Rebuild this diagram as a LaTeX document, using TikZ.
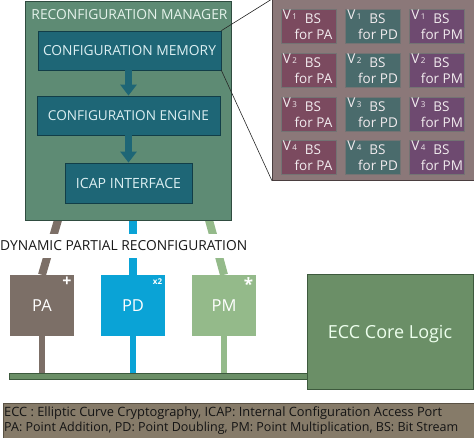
\documentclass[tikz,border=0pt]{standalone}
\usepackage{fontspec}
\usepackage{graphicx}
\setmainfont{Open Sans}
\usetikzlibrary{arrows.meta,backgrounds,calc}
\newcommand{\fitw}[2]{\resizebox{#1pt}{!}{#2}}
\definecolor{mgrfill}{HTML}{5E8B74}
\definecolor{mgrline}{HTML}{2F4C40}
\definecolor{mgrtext}{HTML}{E4F2EA}
\definecolor{innerfill}{HTML}{1E6676}
\definecolor{innerline}{HTML}{123E48}
\definecolor{innertext}{HTML}{DCEFF2}
\definecolor{panelfill}{HTML}{8B7879}
\definecolor{panelline}{HTML}{4A3E3F}
\definecolor{cellA}{HTML}{7B4A5F}
\definecolor{cellB}{HTML}{4A6B6C}
\definecolor{cellC}{HTML}{6E4A70}
\definecolor{celltxt}{HTML}{F2ECEF}
\definecolor{pafill}{HTML}{7C6F67}
\definecolor{pdfill}{HTML}{0AA3D6}
\definecolor{pmfill}{HTML}{94BA8A}
\definecolor{eccfill}{HTML}{6B8F67}
\definecolor{eccline}{HTML}{3D5A3D}
\definecolor{legfill}{HTML}{867B69}
\definecolor{legline}{HTML}{5A5245}
\begin{document}
\begin{tikzpicture}[x=1pt,y=-1pt,
  mgrbox/.style={draw=mgrline,fill=mgrfill,line width=1pt,inner sep=0pt},
  innerbox/.style={draw=innerline,fill=innerfill,line width=0.8pt,inner sep=0pt,text=innertext},
  blockarrow/.style={line width=7pt,draw=innerfill,-{Triangle[length=11pt,width=16pt]}},
  panelbox/.style={draw=panelline,fill=panelfill,line width=0.8pt,inner sep=0pt},
  cellbox/.style={draw=black!55,line width=0.5pt,minimum width=55pt,minimum height=34pt,inner sep=0pt},
  celltext/.style={text=celltxt,inner sep=0pt,font=\fontsize{13.5}{15}\selectfont},
  zoomline/.style={draw=black!85,line width=0.6pt},
  opbox/.style={minimum width=64pt,minimum height=61pt,inner sep=0pt,text=white,font=\fontsize{16.5}{18}\selectfont},
  opmark/.style={inner sep=0pt,text=white},
  stubline/.style={line width=8pt},
  busline/.style={line width=6pt},
  eccbox/.style={draw=eccline,fill=eccfill,line width=0.8pt,inner sep=0pt,text=white!93!green,font=\fontsize{18}{20}\selectfont,text depth=0pt},
  legbox/.style={draw=legline,fill=legfill,line width=0.6pt,inner sep=0pt},
  legtext/.style={inner sep=0pt,text=black!92,anchor=base west}
]
\useasboundingbox (0,0) rectangle (474,437);

% Reconfiguration manager
\node[mgrbox,minimum width=206pt,minimum height=219pt,anchor=north west] (mgr) at (25,1) {};
\node[text=mgrtext,inner sep=0pt] (mgrtitle) at (129.5,14.5) {\fitw{196}{RECONFIGURATION MANAGER}};
\node[innerbox,minimum width=183pt,minimum height=39pt] (mem) at (129.5,50.5) {\fitw{173}{CONFIGURATION MEMORY}};
\node[innerbox,minimum width=183pt,minimum height=39pt] (eng) at (128.5,115.5) {\fitw{161}{CONFIGURATION ENGINE}};
\node[innerbox,minimum width=127pt,minimum height=40pt] (icap) at (128.5,183) {\fitw{105}{ICAP INTERFACE}};
\draw[blockarrow] (mem.south -| eng.north) -- (eng.north);
\draw[blockarrow] (eng.south -| icap.north) -- (icap.north);

% Bit stream panel
\node[panelbox,minimum width=206pt,minimum height=181pt,anchor=north west] (panel) at (272,-1) {};
\draw[zoomline] (mem.north east) -- (panel.north west);
\draw[zoomline] (mem.south east) -- (panel.south west);
\foreach \cx/\cc/\lab [count=\i] in {308.5/cellA/PA,373/cellB/PD,437/cellC/PM}{
  \foreach \cy [count=\j] in {26,70,114,157}{
    \node[cellbox,fill=\cc] (c\i\j) at (\cx,\cy) {};
    \node[celltext,anchor=base west] (v\i\j) at ([xshift=2pt,yshift=-10.5pt]c\i\j.north west) {V{\fontsize{8}{9}\selectfont\,\j}};
    \node[celltext] (b\i\j) at ([xshift=4.5pt,yshift=7.5pt]c\i\j.center) {BS};
    \node[celltext] (f\i\j) at ([xshift=5pt,yshift=-8pt]c\i\j.center) {for \lab};
  }
}

% Operators
\node[opbox,fill=pafill] (pa) at (42,305.5) {PA};
\node[opbox,fill=pdfill] (pd) at (133,305.5) {PD};
\node[opbox,fill=pmfill] (pm) at (224,305.5) {PM};
\node[opmark,font=\bfseries\fontsize{16}{16}\selectfont] (plus) at (67,281.5) {+};
\node[opmark,font=\bfseries\fontsize{8}{8}\selectfont] (x2) at (157.5,282) {x2};
\node[opmark,font=\bfseries\fontsize{17}{17}\selectfont,anchor=north] (star) at (248.5,277.5) {*};

% ECC core and bus
\node[draw=eccline,fill=eccfill,line width=0.6pt,minimum width=301pt,minimum height=6pt,inner sep=0pt,anchor=north west] (bus) at (9,373) {};
\node[eccbox,minimum width=166pt,minimum height=115pt] (ecc) at (390,331.5) {ECC Core Logic};

\coordinate (sa) at (58,220);
\coordinate (sm) at (209,220);
\begin{scope}[on background layer]
  \draw[stubline,draw=pafill] (sa) -- (pa.north);
  \draw[stubline,draw=pdfill] (pd.north |- mgr.south) -- (pd.north);
  \draw[stubline,draw=pmfill] (sm) -- (pm.north);
  \draw[busline,draw=pafill] (pa.south) -- (pa.south |- bus.north);
  \draw[busline,draw=pdfill] (pd.south) -- (pd.south |- bus.north);
  \draw[busline,draw=pmfill] (pm.south) -- (pm.south |- bus.north);
\end{scope}

\node[fill=white,inner xsep=0pt,minimum height=24pt,anchor=west,text=black!90] (dpr) at (0,245.5) {\fitw{247}{DYNAMIC PARTIAL RECONFIGURATION}};

% Legend
\node[legbox,minimum width=472pt,minimum height=35pt,anchor=north west] (leg) at (3,403) {};
\node[legtext] (leg1) at (4,416.7) {\fitw{438}{ECC : Elliptic Curve Cryptography, ICAP: Internal Configuration Access Port}};
\node[legtext] (leg2) at (4,431.3) {\fitw{454}{PA: Point Addition, PD: Point Doubling, PM: Point Multiplication, BS: Bit Stream}};
\end{tikzpicture}
\end{document}
